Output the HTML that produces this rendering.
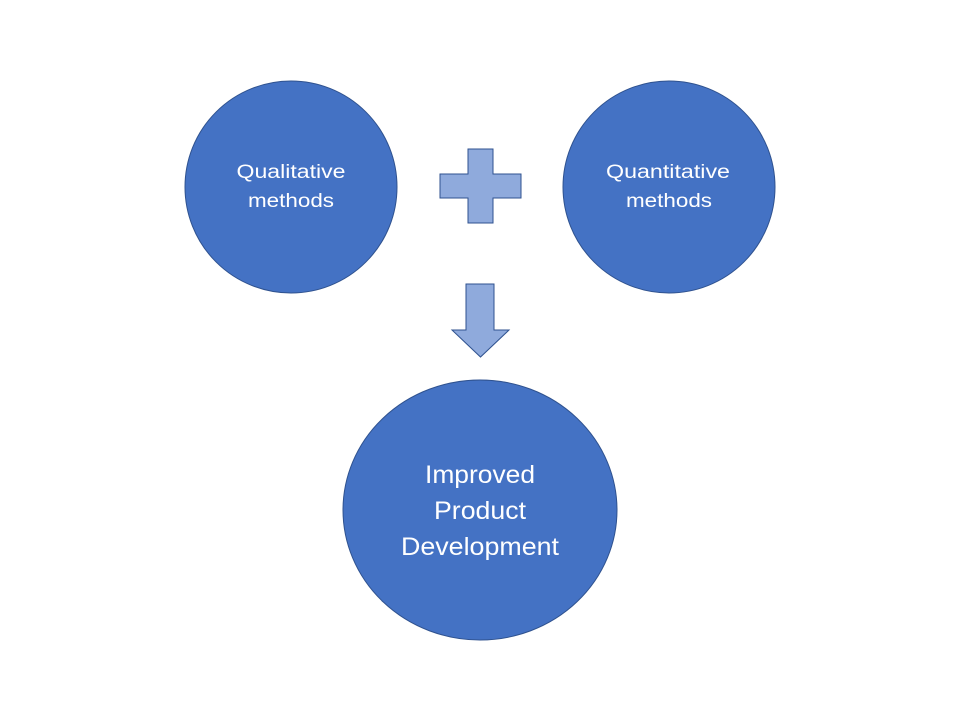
<!DOCTYPE html>
<html><head><style>body{margin:0;background:#fff}</style></head><body>
<svg width="960" height="720" xmlns="http://www.w3.org/2000/svg" style="display:block">
<rect width="960" height="720" fill="#fff"/>
<g fill="#4472C4" stroke="#2F528F" stroke-width="1">
<circle cx="291" cy="187" r="106"/>
<circle cx="669" cy="187" r="106"/>
<ellipse cx="480" cy="510" rx="137" ry="130"/>
</g>
<g fill="#8FAADC" stroke="#2F528F" stroke-width="1">
<path d="M468 149H493V174H521V198H493V223H468V198H440V174H468Z"/>
<path d="M466 284H494V330H509L480.5 357L452 330H466Z"/>
</g>
<g fill="#fff" font-family="Liberation Sans, sans-serif" text-anchor="middle">
<text x="291" y="178" font-size="19" textLength="109" lengthAdjust="spacingAndGlyphs">Qualitative</text>
<text x="291" y="207" font-size="19" textLength="86" lengthAdjust="spacingAndGlyphs">methods</text>
<text x="668" y="178" font-size="19" textLength="124" lengthAdjust="spacingAndGlyphs">Quantitative</text>
<text x="669" y="207" font-size="19" textLength="86" lengthAdjust="spacingAndGlyphs">methods</text>
<text x="480" y="483" font-size="25" textLength="110" lengthAdjust="spacingAndGlyphs">Improved</text>
<text x="480" y="519" font-size="25" textLength="92" lengthAdjust="spacingAndGlyphs">Product</text>
<text x="480" y="555" font-size="25" textLength="158" lengthAdjust="spacingAndGlyphs">Development</text>
</g>
</svg>
</body></html>
